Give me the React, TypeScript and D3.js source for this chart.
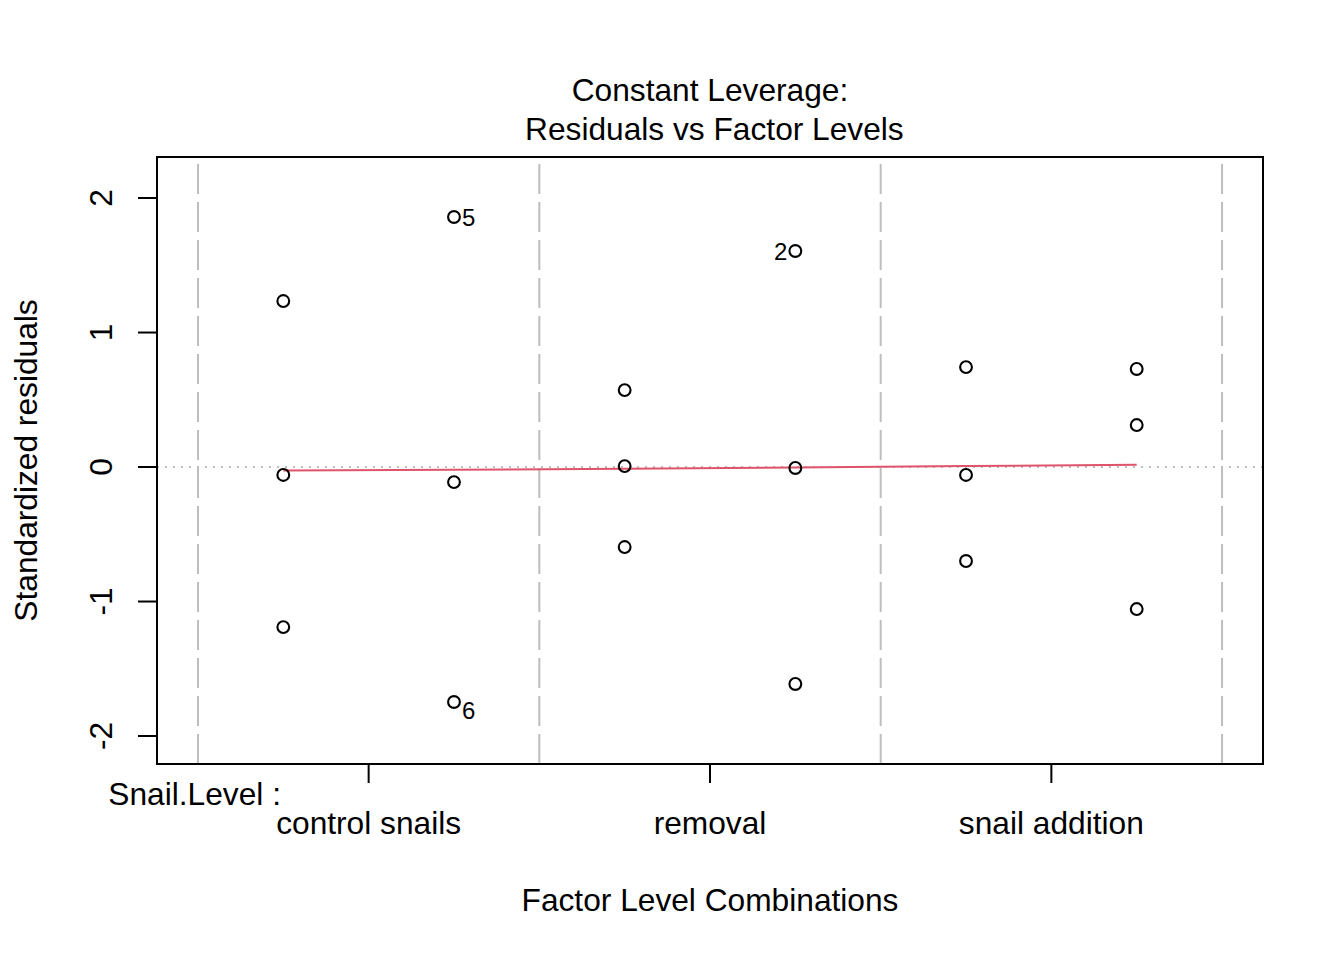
import React from "react";
import * as d3 from "d3";

// ---- data ----
const categories = ["control snails", "removal", "snail addition"];
const factorName = "Snail.Level :";
const xPos = [0, 0, 0, 1, 1, 1, 2, 2, 2, 3, 3, 3, 4, 4, 4, 5, 5, 5];
const residuals = [
  1.234, -0.059, -1.19,
  1.859, -0.112, -1.747,
  0.572, 0.007, -0.595,
  1.606, -0.007, -1.613,
  0.743, -0.059, -0.699,
  0.729, 0.312, -1.056,
];
const idPoints = [3, 9, 5]; // indices into arrays
const idLabels = ["5", "2", "6"];
const smoothX = [0, 1, 2, 3, 4, 5];
const smoothY = [-0.026, -0.021, -0.012, -0.003, 0.007, 0.017];
const yTicks = [-2, -1, 0, 1, 2];
const vLines = [-0.5, 1.5, 3.5, 5.5];
const catTicks = [0.5, 2.5, 4.5];

const W = 1344;
const H = 960;
const L = 157, R = 1263, T = 157, B = 764;
const FONT = "'Liberation Sans', Arial, sans-serif";
const FS = 31.7;

export default function App() {
  const x = d3.scaleLinear().domain([-0.74, 5.74]).range([L, R]);
  const y = d3.scaleLinear().domain([-2.208, 2.305]).range([B, T]);
  const line = d3
    .line<number>()
    .x((_, i) => x(smoothX[i]))
    .y((d) => y(d));
  const midX = (d3.min(xPos)! + d3.max(xPos)!) / 2;

  return (
    <svg
      width={W}
      height={H}
      style={{ position: "absolute", left: 0, top: 0, background: "#fff" }}
      fontFamily={FONT}
    >
      <rect x={0} y={0} width={W} height={H} fill="#fff" />
      {/* vertical dashed lines */}
      {vLines.map((v) => (
        <line
          key={v}
          x1={x(v)}
          x2={x(v)}
          y1={B}
          y2={T}
          stroke="#BEBEBE"
          strokeWidth={2}
          strokeDasharray="30,8"
        />
      ))}
      {/* horizontal dotted */}
      <line
        x1={L}
        x2={R}
        y1={y(0)}
        y2={y(0)}
        stroke="#BEBEBE"
        strokeWidth={2}
        strokeDasharray="2,6"
      />
      {/* smoother */}
      <path d={line(smoothY) || ""} fill="none" stroke="#DF536B" strokeWidth={2} />
      {/* points */}
      {residuals.map((r, i) => (
        <circle
          key={i}
          cx={x(xPos[i])}
          cy={y(r)}
          r={5.9}
          fill="none"
          stroke="#000"
          strokeWidth={2.1}
        />
      ))}
      {/* id labels */}
      {idPoints.map((p, k) => {
        const left = xPos[p] > midX;
        const px = x(xPos[p]);
        const py = y(residuals[p]) + (residuals[p] < 0 ? 8 : 0);
        return (
          <text
            key={k}
            x={left ? px - 8 : px + 8}
            y={py}
            dy="0.36em"
            fontSize={24}
            textAnchor={left ? "end" : "start"}
          >
            {idLabels[k]}
          </text>
        );
      })}
      {/* box */}
      <rect x={L} y={T} width={R - L} height={B - T} fill="none" stroke="#000" strokeWidth={2} />
      {/* y axis ticks */}
      {yTicks.map((t) => (
        <g key={t}>
          <line x1={L - 19} x2={L} y1={y(t)} y2={y(t)} stroke="#000" strokeWidth={2} />
          <text
            transform={`translate(112,${y(t)}) rotate(-90)`}
            textAnchor="middle"
            fontSize={FS}
          >
            {t}
          </text>
        </g>
      ))}
      {/* x ticks and labels */}
      {catTicks.map((t, i) => (
        <g key={t}>
          <line x1={x(t)} x2={x(t)} y1={B} y2={B + 19} stroke="#000" strokeWidth={2} />
          <text x={x(t)} y={834} textAnchor="middle" fontSize={FS}>
            {categories[i]}
          </text>
        </g>
      ))}
      <text x={281} y={805} textAnchor="end" fontSize={FS}>
        {factorName}
      </text>
      {/* titles */}
      <text x={(L + R) / 2} y={101} textAnchor="middle" fontSize={FS}>
        Constant Leverage:
      </text>
      <text x={(L + R) / 2} y={140} textAnchor="middle" fontSize={FS} style={{ whiteSpace: "pre" }}>
        {" Residuals vs Factor Levels"}
      </text>
      <text x={(L + R) / 2} y={911} textAnchor="middle" fontSize={FS}>
        Factor Level Combinations
      </text>
      <text
        transform={`translate(37,${(T + B) / 2}) rotate(-90)`}
        textAnchor="middle"
        fontSize={FS}
      >
        Standardized residuals
      </text>
    </svg>
  );
}
